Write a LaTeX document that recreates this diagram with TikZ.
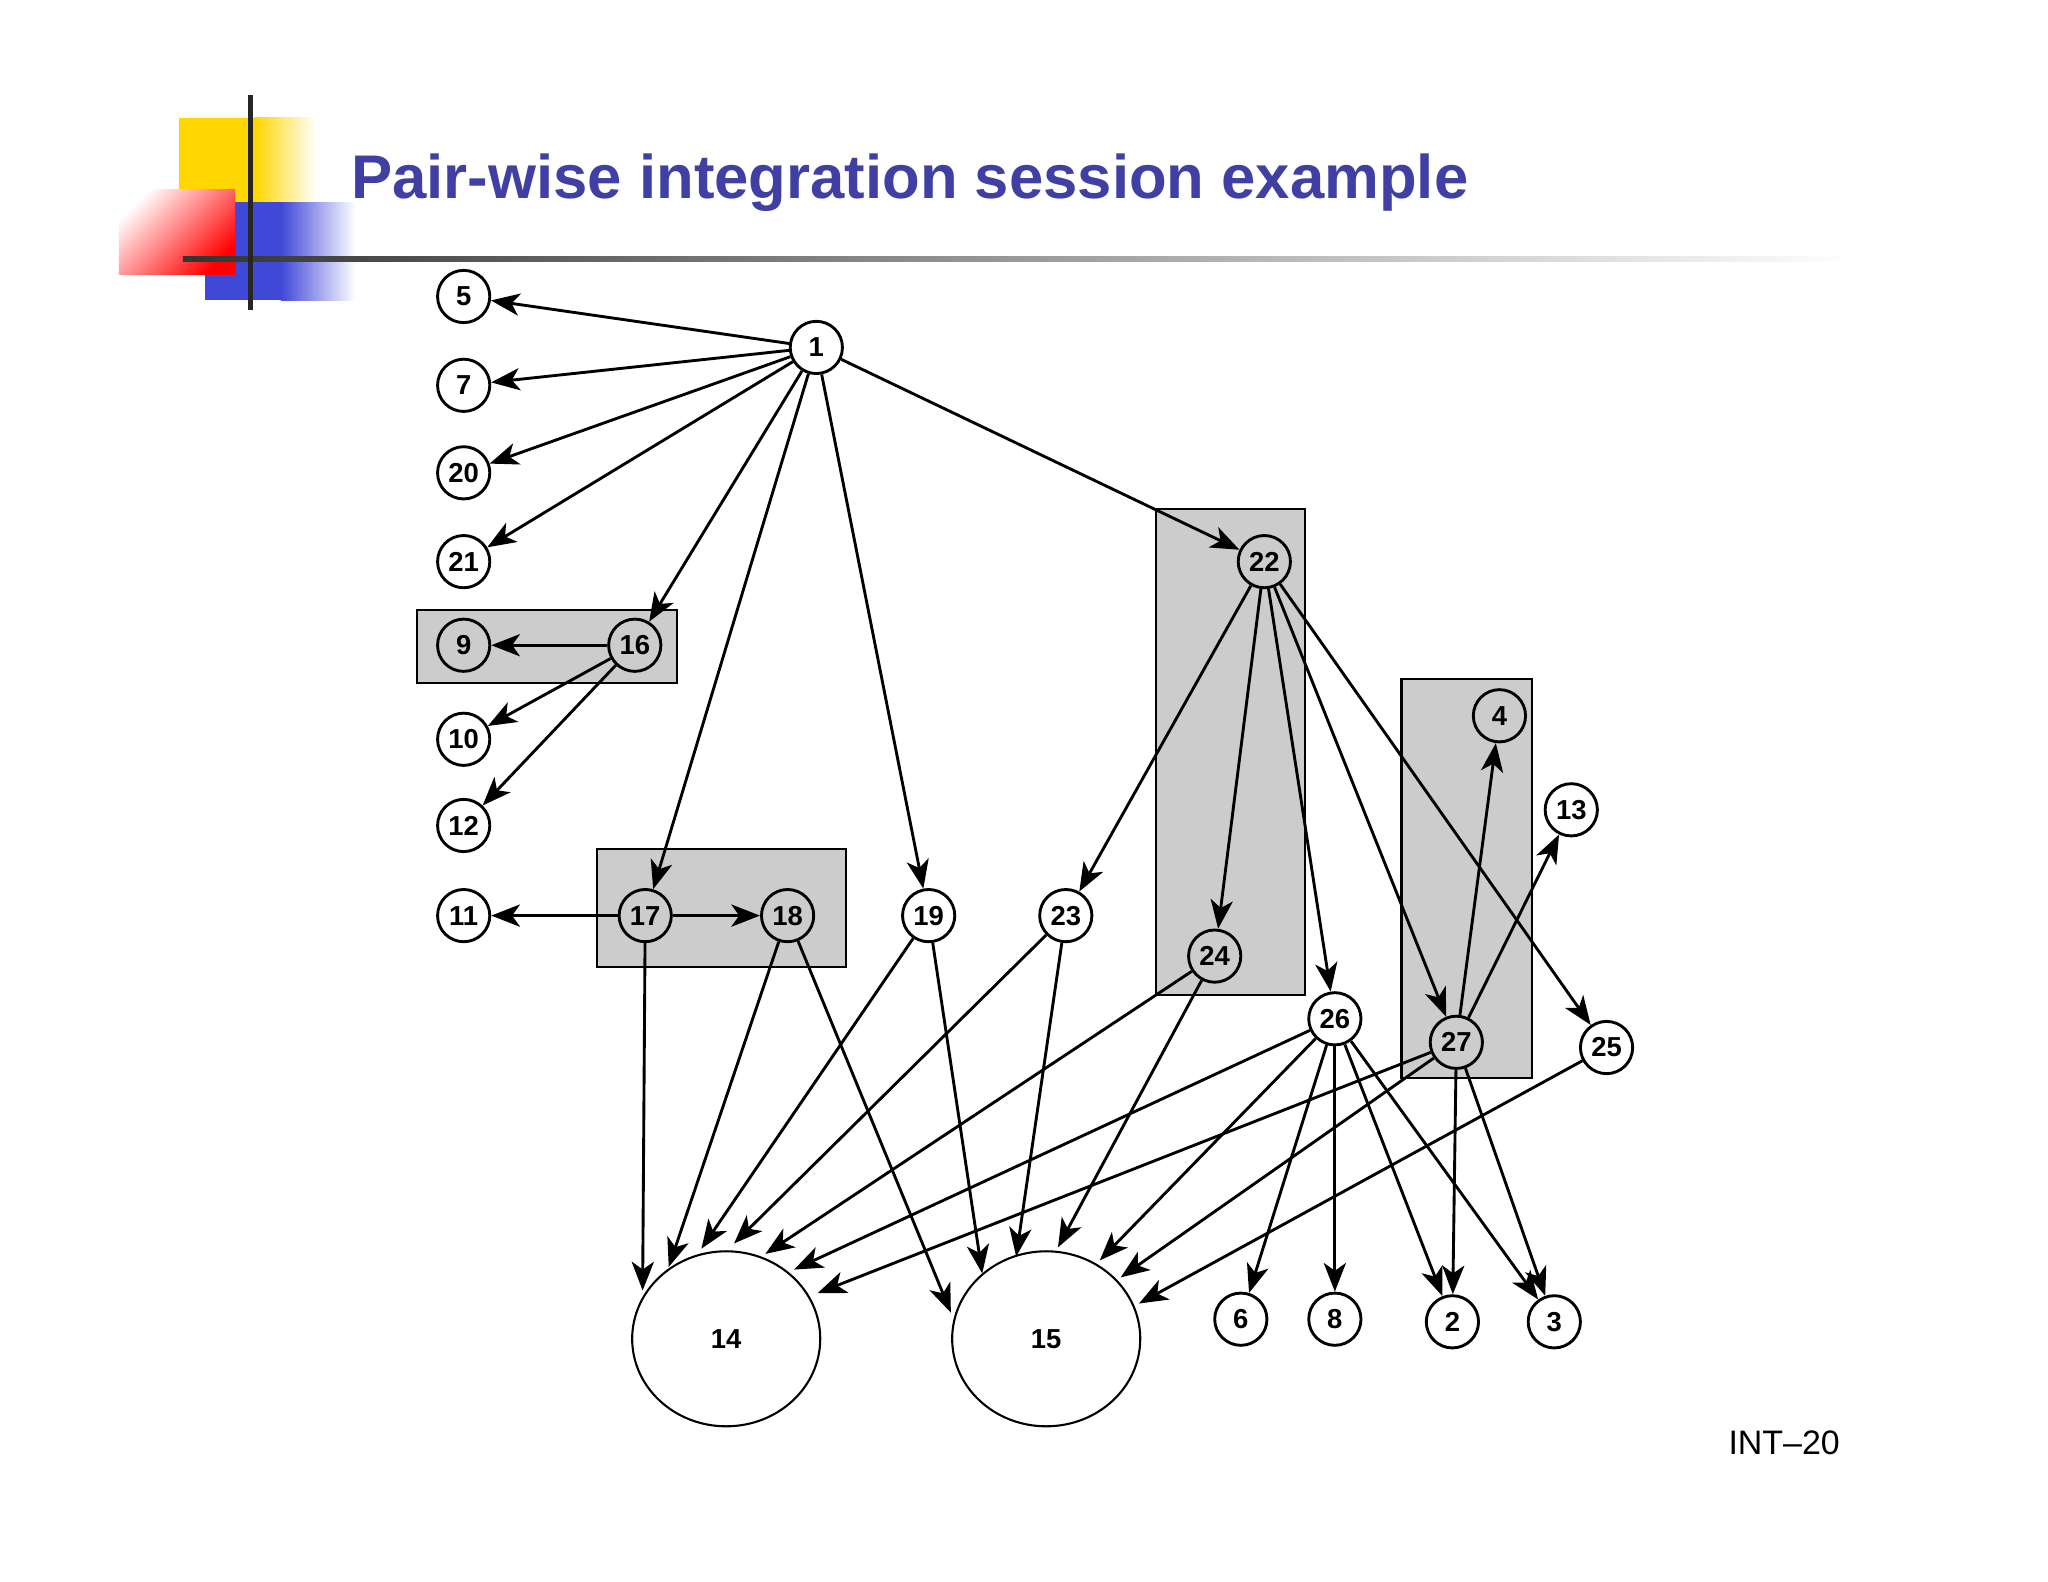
\documentclass[tikz,border=0pt]{standalone}
\usepackage{fontspec}
\setmainfont{Liberation Sans}
\usetikzlibrary{arrows.meta,shapes.geometric}
\definecolor{titleblue}{RGB}{64,64,164}
\definecolor{boxgray}{RGB}{204,204,204}
\definecolor{logoyellow}{RGB}{255,214,0}
\definecolor{logoblue}{RGB}{64,72,216}
\begin{document}
\begin{tikzpicture}[x=0.5pt,y=-0.5pt,
  v/.style={circle,draw,line width=1.1pt,fill=white,minimum size=20pt,inner sep=0pt,font=\bfseries\fontsize{10.5}{12}\selectfont},
  g/.style={v,fill=boxgray},
  big/.style={ellipse,draw,line width=0.8pt,fill=white,minimum width=72pt,minimum height=67pt,font=\bfseries\fontsize{10.5}{12}\selectfont},
  grp/.style={draw,line width=0.8pt,fill=boxgray},
  e/.style={line width=1.1pt,-{Stealth[length=11pt,width=8.5pt,inset=3pt]}}]
\useasboundingbox (0,0) rectangle (1568,1211);
% logo
\fill[logoyellow] (137,90) rectangle (195,155);
\shade[left color=logoyellow,right color=white] (195,90) rectangle (242,155);
\fill[logoblue] (157,155) rectangle (215,230);
\shade[left color=logoblue,right color=white] (215,155) rectangle (272,230);
\shade[left color=white,right color=red,shading angle=45] (91,145) rectangle (180,210);
\shade[left color=black!80,right color=white] (140,196) rectangle (1420,200);
\fill[black!85] (190,73) rectangle (194,237);
\node[anchor=west,text=titleblue,font=\bfseries\fontsize{23.6}{28}\selectfont] (title) at (262,140) {Pair-wise integration session example};
\node[font=\fontsize{13}{15}\selectfont] (foot) at (1366,1105) {INT–20};
% groups
\draw[grp] (319,467) rectangle (518,523);
\draw[grp] (457,650) rectangle (648,740);
\draw[grp] (885,390) rectangle (999,762);
\draw[grp] (1073,520) rectangle (1173,825);
% nodes
\node[v] (n1) at (625,266) {1};
\node[v] (n5) at (355,227) {5};
\node[v] (n7) at (355,295) {7};
\node[v] (n20) at (355,362) {20};
\node[v] (n21) at (355,430) {21};
\node[g] (n9) at (355,494) {9};
\node[g] (n16) at (486,494) {16};
\node[v] (n10) at (355,566) {10};
\node[v] (n12) at (355,632) {12};
\node[v] (n11) at (355,701) {11};
\node[g] (n17) at (494,701) {17};
\node[g] (n18) at (603,701) {18};
\node[v] (n19) at (711,701) {19};
\node[v] (n23) at (816,701) {23};
\node[g] (n22) at (968,430) {22};
\node[g] (n24) at (930,732) {24};
\node[v] (n26) at (1022,780) {26};
\node[g] (n27) at (1115,798) {27};
\node[v] (n25) at (1230,802) {25};
\node[g] (n4) at (1148,548) {4};
\node[v] (n13) at (1203,620) {13};
\node[big] (n14) at (556,1025) {14};
\node[big] (n15) at (801,1025) {15};
\node[v] (n6) at (950,1010) {6};
\node[v] (n8) at (1022,1010) {8};
\node[v] (n2) at (1112,1012) {2};
\node[v] (n3) at (1190,1012) {3};
% arrival points on 14 and 15
\coordinate (a17) at (492,988);
\coordinate (a18) at (512,970);
\coordinate (a19) at (537,956);
\coordinate (a23) at (562,952);
\coordinate (a24) at (586,960);
\coordinate (a26) at (608,972);
\coordinate (a27) at (626,990);
\coordinate (b18) at (728,1005);
\coordinate (b19) at (752,975);
\coordinate (b23) at (778,962);
\coordinate (b24) at (810,955);
\coordinate (b26) at (842,965);
\coordinate (b27) at (858,978);
\coordinate (b25) at (872,998);
% edges
\foreach \t in {5,7,20,21,16,17,19,22} \draw[e] (n1) -- (n\t);
\foreach \t in {9,10,12} \draw[e] (n16) -- (n\t);
\draw[e] (n17) -- (n11);
\draw[e] (n17) -- (n18);
\draw[e] (n17) -- (a17);
\foreach \s in {18,19,23,24,26,27} {\draw[e] (n\s) -- (a\s); \draw[e] (n\s) -- (b\s);}
\draw[e] (n25) -- (b25);
\foreach \t in {23,24,26,27,25} \draw[e] (n22) -- (n\t);
\foreach \t in {6,8,2,3} \draw[e] (n26) -- (n\t);
\foreach \t in {4,13,2,3} \draw[e] (n27) -- (n\t);
\end{tikzpicture}
\end{document}
